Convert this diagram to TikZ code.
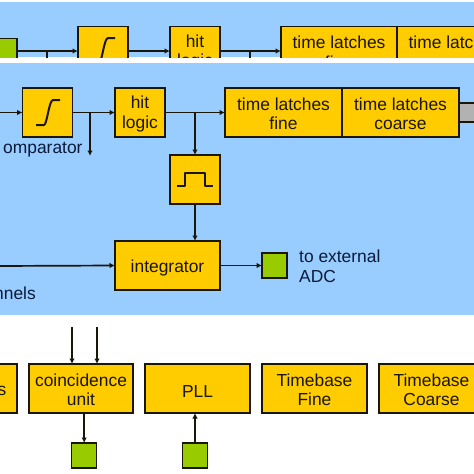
\documentclass[tikz,border=0pt]{standalone}
\usepackage{fontspec}
\setmainfont{Liberation Sans}
\usetikzlibrary{arrows.meta}
\definecolor{panelblue}{HTML}{99CCFF}
\definecolor{boxorange}{HTML}{FFCC00}
\definecolor{padgreen}{HTML}{99CC00}
\definecolor{padgray}{HTML}{B2B2B2}
\definecolor{inkdark}{HTML}{1A1608}
\definecolor{labelnavy}{HTML}{0B1A38}
\tikzset{
  x=1pt,y=-1pt,
  txtfont/.style={font=\fontsize{17.4}{19.6}\selectfont},
  blockbox/.style={draw=inkdark,fill=boxorange,line width=1.3pt,inner sep=0pt,outer sep=0pt,
     minimum width=#1,minimum height=49pt,align=center,txtfont,text=inkdark,
     execute at begin node={\rule{0pt}{18pt}}},
  blockbox/.default=50pt,
  blocktext/.style={txtfont,text=inkdark,inner sep=0pt,align=center},
  padbox/.style={draw=inkdark,fill=padgreen,line width=1.2pt,inner sep=0pt,outer sep=0pt,minimum size=25pt},
  wire/.style={draw=inkdark,line width=1.7pt},
  arrowwire/.style={wire,-{Latex[length=5.5pt,width=5.5pt]}},
  symbolline/.style={draw=inkdark,line width=2pt,line join=round},
  label/.style={txtfont,text=labelnavy,inner sep=0pt,align=left}
}
\begin{document}
\begin{tikzpicture}
\useasboundingbox (0,0) rectangle (474,474);
\clip (0,0) rectangle (474,474);
\fill[white] (0,0) rectangle (474,474);
\fill[panelblue] (0,2) rectangle (474,57);
\fill[panelblue] (0,63) rectangle (474,315);

% clipped top row
\begin{scope}
\clip (0,2) rectangle (474,57);
\node[padbox] (tpad) at (4.5,51) {};
\node[blockbox] (tcomp) at (103,51) {};
\node[blockbox] (thit) at (195,51) {};
\node[blockbox=116pt] (tfine) at (339,51) {};
\node[blockbox=116pt] (tcoarse) at (455,51) {};
\node[blocktext] (thittxt) at (195,52.3) {hit\\logic};
\node[blocktext] (tfinetxt) at (339,52.3) {time latches\\fine};
\node[blocktext] (tcoarsetxt) at (455,52.3) {time latches\\coarse};
\coordinate (tb1) at (47,51);
\coordinate (tb1e) at (47,60);
\coordinate (tb2) at (250,51);
\coordinate (tb2e) at (250,60);
\draw[arrowwire] (tpad.east) -- (tcomp.west);
\draw[arrowwire] (tcomp.east) -- (thit.west);
\draw[arrowwire] (thit.east) -- (tfine.west);
\draw[wire] (tb1) -- (tb1e);
\draw[wire] (tb2) -- (tb2e);
\draw[symbolline] (91,63) -- (99,63) .. controls (102,63) and (104,38) .. (108,38) -- (115,38);
\end{scope}

% channel row
\coordinate (inA) at (-2,112.5);
\coordinate (inB) at (-2,266);
\node[blockbox] (comp) at (47.5,112.5) {};
\node[blockbox] (hit) at (140,112.5) {};
\node[blockbox=117pt] (fine) at (283.5,112.5) {};
\node[blockbox=117pt] (coarse) at (400.5,112.5) {};
\node[blocktext] (hittxt) at (140,113.8) {hit\\logic};
\node[blocktext] (finetxt) at (283.5,113.8) {time latches\\fine};
\node[blocktext] (coarsetxt) at (400.5,113.8) {time latches\\coarse};
\node[draw=inkdark,fill=padgray,line width=1.2pt,inner sep=0pt,minimum width=30pt,minimum height=19pt,anchor=west] (grayout) at (459,112.5) {};
\node[blockbox] (pulse) at (195,179.5) {};
\node[blockbox=105pt] (integ) at (167.5,265.5) {integrator};
\node[padbox] (adc) at (274.5,265.5) {};
\node[label,anchor=west] (adctxt) at (299,266.5) {to external\\ADC};
\node[label,anchor=base west] (complbl) at (3,153) {omparator};
\node[label,anchor=base east] (chanlbl) at (36,299) {nnels};

\coordinate (b1) at (90,112.5);
\coordinate (b1e) at (90,156);
\coordinate (b2) at (195,112.5);
\draw[arrowwire] (inA) -- (comp.west);
\draw[arrowwire] (comp.east) -- (hit.west);
\draw[arrowwire] (hit.east) -- (fine.west);
\draw[arrowwire] (b1) -- (b1e);
\draw[arrowwire] (b2) -- (pulse.north);
\draw[arrowwire] (pulse.south) -- (pulse.south |- integ.north);
\draw[arrowwire] (inB) -- (integ.west);
\draw[arrowwire] (integ.east) -- (adc.west);
\draw[symbolline] (36,125) -- (44,125) .. controls (47,125) and (49,100) .. (53,100) -- (60,100);
\draw[symbolline] (177,186) -- (185,186) -- (185,173) -- (205,173) -- (205,186) -- (213,186);

% bottom row
\node[blockbox=60pt] (leftbox) at (-13,388.5) {};
\node[txtfont,text=inkdark,inner sep=0pt,anchor=base east] (leftlbl) at (6.5,395.5) {s};
\node[blockbox=104pt] (coinc) at (81,388.5) {};
\node[blockbox=105pt] (pll) at (197.5,388.5) {PLL};
\node[blockbox=105pt] (tbf) at (314.5,388.5) {};
\node[blockbox=105pt] (tbc) at (431.5,388.5) {};
\node[blocktext] (coinctxt) at (81,389.8) {coincidence\\unit};
\node[blocktext] (tbftxt) at (314.5,389.8) {Timebase\\Fine};
\node[blocktext] (tbctxt) at (431.5,389.8) {Timebase\\Coarse};
\node[padbox] (cpad) at (84.2,455.5) {};
\node[padbox] (ppad) at (195,455.5) {};
\coordinate (c1) at (72,327);
\coordinate (c2) at (97,327);
\draw[arrowwire] (c1) -- (c1 |- coinc.north);
\draw[arrowwire] (c2) -- (c2 |- coinc.north);
\draw[arrowwire] (cpad.north |- coinc.south) -- (cpad.north);
\draw[arrowwire] (ppad.north) -- (ppad.north |- pll.south);
\end{tikzpicture}
\end{document}
